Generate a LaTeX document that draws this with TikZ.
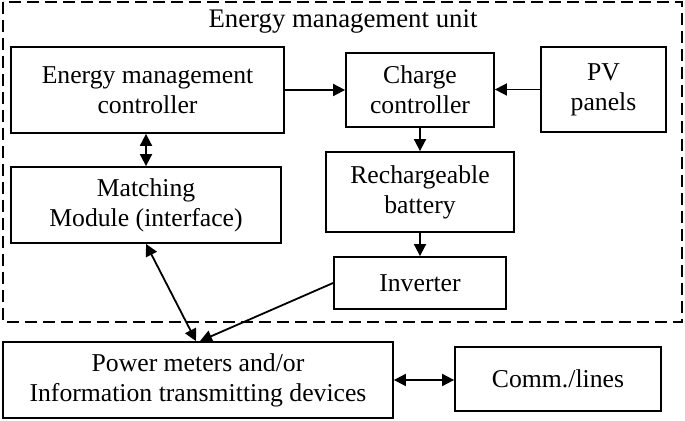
\documentclass[tikz,border=0pt]{standalone}
\usepackage{fontspec}
\setmainfont{Liberation Serif}
\usetikzlibrary{arrows.meta,calc}
\begin{document}
\begin{tikzpicture}[x=0.5pt,y=-0.5pt,
  box/.style={draw, line width=0.9pt, rectangle, inner sep=0pt, align=center,
    font=\fontsize{12.85}{15}\selectfont},
  conn/.style={line width=0.9pt, -{Triangle[length=6pt,width=6pt]}},
  bconn/.style={line width=0.9pt, {Triangle[length=6pt,width=6pt]}-{Triangle[length=6pt,width=6pt]}}]
\useasboundingbox (0,0) rectangle (685,421);
\draw[dashed, line width=0.8pt, dash pattern=on 6pt off 3pt] (3,2) rectangle (682,322);
\node[font=\fontsize{13.4}{16}\selectfont, inner sep=0pt] (title) at (343,22) {Energy management unit};
\node[box, minimum width=136.5pt, minimum height=43pt] (emc) at (147.5,90) {Energy management\\controller};
\node[box, minimum width=74pt, minimum height=37pt] (cc) at (420,90) {Charge\\controller};
\node[box, minimum width=62.5pt, minimum height=42.5pt] (pv) at (603.5,89.5) {PV\\panels};
\node[box, minimum width=135pt, minimum height=38pt] (mm) at (146,205) {Matching\\Module (interface)};
\node[box, minimum width=94pt, minimum height=40pt] (bat) at (420,192) {Rechargeable\\battery};
\node[box, minimum width=86pt, minimum height=26pt] (inv) at (420,283) {Inverter};
\node[box, minimum width=195pt, minimum height=38pt] (pm) at (198,380) {Power meters and/or\\Information transmitting devices};
\node[box, minimum width=103pt, minimum height=32pt] (cl) at (558,379) {Comm./lines};
\draw[conn] (emc.east) -- (emc.east -| cc.west);
\draw[conn] (pv.west) -- (pv.west -| cc.east);
\draw[conn] (cc.south) -- (bat.north);
\draw[conn] (bat.south) -- (inv.north);
\draw[bconn] (mm.north) -- (mm.north |- emc.south);
\draw[bconn] (mm.south) -- ([xshift=-1pt]pm.north);
\draw[conn] (inv.west) -- ([xshift=1pt]pm.north);
\draw[bconn] (pm.east) -- (pm.east -| cl.west);
\end{tikzpicture}
\end{document}
